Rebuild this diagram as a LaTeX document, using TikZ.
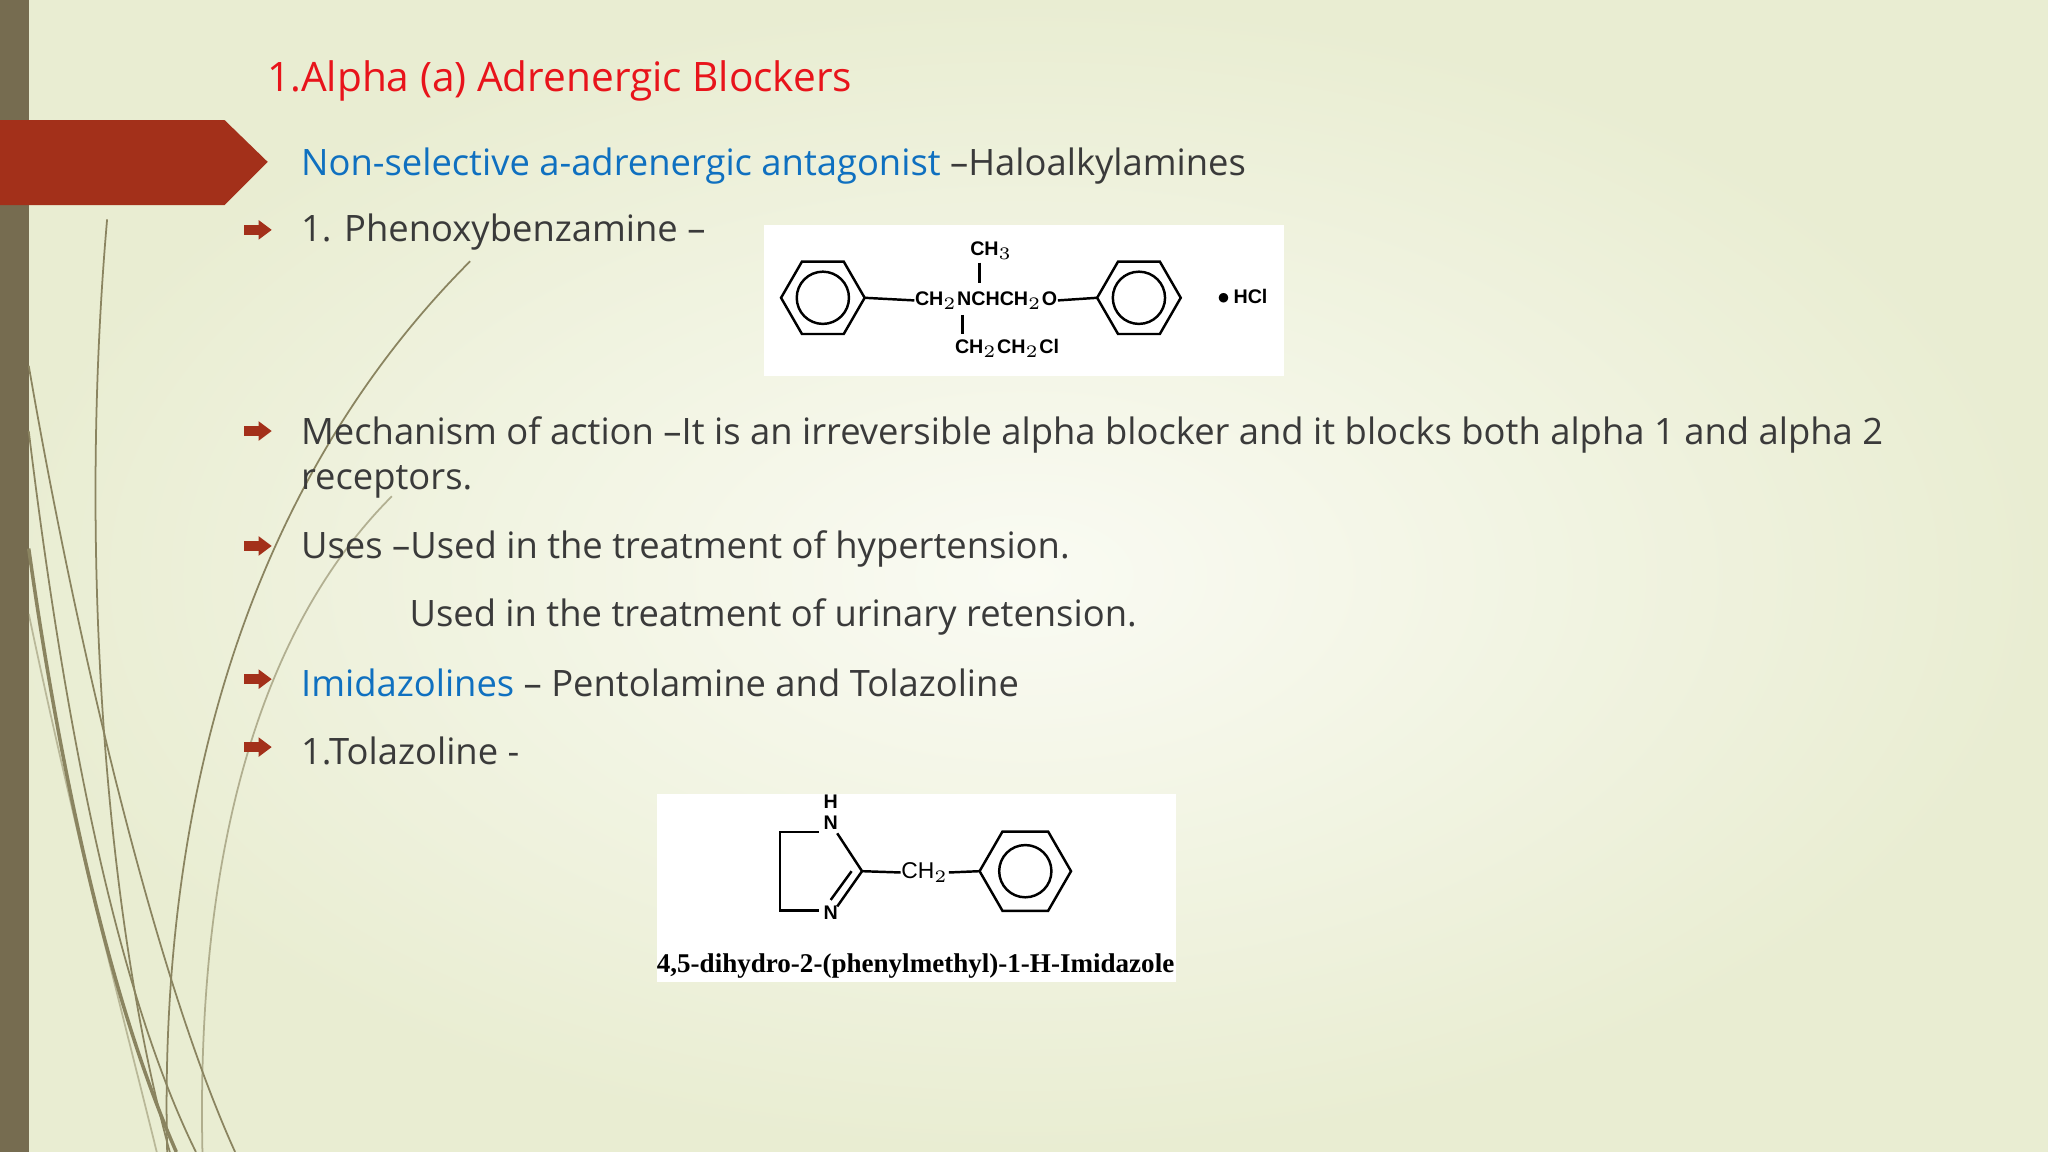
\documentclass[tikz,border=0pt]{standalone}
\usepackage{fontspec}
\setmainfont{Open Sans}
\newfontfamily\chemfont{Liberation Sans}
\newfontfamily\capfont{Liberation Serif}
\definecolor{bgc}{HTML}{E9EDD2}
\definecolor{bgw}{HTML}{FAFBF3}
\definecolor{barc}{HTML}{766C50}
\definecolor{redc}{HTML}{A3301A}
\definecolor{titc}{HTML}{E8141B}
\definecolor{bluec}{HTML}{0F70C0}
\definecolor{txtc}{HTML}{3A3A3A}
\definecolor{linec}{HTML}{8A8460}
\tikzset{
 body/.style={anchor=west,text=txtc,font=\fontsize{10.35}{12}\selectfont,inner sep=0pt},
 chem/.style={font=\chemfont\bfseries\fontsize{5.6}{6}\selectfont,inner sep=0pt,text=black},
 bond/.style={line width=0.7pt,black},
 swoosh/.style={linec,line width=0.5pt}
}
\newcommand{\bul}[2]{\fill[redc] (#1-10,#2-4) rectangle (#1+1,#2+4); \fill[redc] (#1+1,#2-7.5) -- (#1+11,#2) -- (#1+1,#2+7.5) -- cycle;}
\begin{document}
\begin{tikzpicture}[x=0.013061cm,y=-0.013061cm]
\useasboundingbox (0,0) rectangle (1568,882);
\shade[inner color=bgw,outer color=bgc] (0,0) rectangle (1568,882);
\fill[barc] (0,0) rectangle (22,882);
% swooshes
\draw[swoosh] (22,280) .. controls (60,500) and (120,750) .. (180,882);
\draw[swoosh] (22,330) .. controls (50,560) and (90,760) .. (150,882);
\draw[swoosh,line width=1pt] (22,420) .. controls (50,620) and (90,780) .. (135,882);
\draw[swoosh] (82,168) .. controls (60,420) and (80,700) .. (130,882);
\draw[swoosh] (360,200) .. controls (220,340) and (120,560) .. (128,882);
\draw[swoosh,opacity=0.6] (300,380) .. controls (200,480) and (150,650) .. (155,882);
\draw[swoosh,opacity=0.5] (22,470) .. controls (60,650) and (100,800) .. (120,882);
% banner
\fill[redc] (0,92) -- (172,92) -- (205,124) -- (172,157) -- (0,157) -- cycle;
\node[anchor=west,text=titc,font=\fontsize{11.55}{13}\selectfont,inner sep=0pt] (title) at (204,62) {1.Alpha (a) Adrenergic Blockers};
\node[body] (l1) at (230,127) {\textcolor{bluec}{Non-selective a-adrenergic antagonist} –Haloalkylamines};
\bul{197}{176}
\node[body] (l2) at (230,178) {1. Phenoxybenzamine –};
\bul{197}{330}
\node[body] (l3) at (230,333) {Mechanism of action –It is an irreversible alpha blocker and it blocks both alpha 1 and alpha 2};
\node[body] (l3b) at (230,369) {receptors.};
\bul{197}{418}
\node[body] (l4) at (230,420) {Uses –Used in the treatment of hypertension.};
\node[body] (l4b) at (313,472) {Used in the treatment of urinary retension.};
\bul{197}{520}
\node[body] (l5) at (230,523) {\textcolor{bluec}{Imidazolines} – Pentolamine and Tolazoline};
\bul{197}{572}
\node[body] (l6) at (230,575) {1.Tolazoline -};
% structure 1
\fill[white] (585,172) rectangle (983,288);
\draw[bond] (630,228) +(0:32) -- +(60:32) -- +(120:32) -- +(180:32) -- +(240:32) -- +(300:32) -- cycle;
\draw[bond] (630,228) circle (20);
\draw[bond] (872,228) +(0:32) -- +(60:32) -- +(120:32) -- +(180:32) -- +(240:32) -- +(300:32) -- cycle;
\draw[bond] (872,228) circle (20);
\node[chem] (ch2n) at (755,230) {CH$_2$NCHCH$_2$O};
\draw[bond] (662,228) -- (ch2n.west);
\draw[bond] (ch2n.east) -- (840,228);
\node[chem] (ch3) at (759,192) {CH$_3$};
\draw[bond] (750,201) -- (750,217);
\draw[bond] (737,241) -- (737,256);
\node[chem] (ch2cl) at (771,267) {CH$_2$CH$_2$Cl};
\node[chem] (hcl) at (951,227) {$\bullet$\,HCl};
% structure 2
\fill[white] (503,608) rectangle (900,752);
\node[chem] (nh) at (636,614) {H};
\node[chem] (n1) at (636,630) {N};
\node[chem] (n2) at (636,699) {N};
\draw[bond] (627,637) -- (597,637) -- (597,697) -- (627,697);
\draw[bond] (641,638) -- (660,667);
\draw[bond] (660,667) -- (641,694);
\draw[bond] (652,667) -- (636,689);
\node[chem,font=\chemfont\fontsize{6.5}{7}\selectfont] (ch2b) at (708,668) {CH$_2$};
\draw[bond] (660,667) -- (ch2b.west);
\draw[bond] (ch2b.east) -- (750,667);
\draw[bond] (785,667) +(0:35) -- +(60:35) -- +(120:35) -- +(180:35) -- +(240:35) -- +(300:35) -- cycle;
\draw[bond] (785,667) circle (20);
\node[inner sep=0pt,font=\capfont\bfseries\fontsize{7.7}{8}\selectfont] (cap) at (701,740) {4,5-dihydro-2-(phenylmethyl)-1-H-Imidazole};
\end{tikzpicture}
\end{document}
